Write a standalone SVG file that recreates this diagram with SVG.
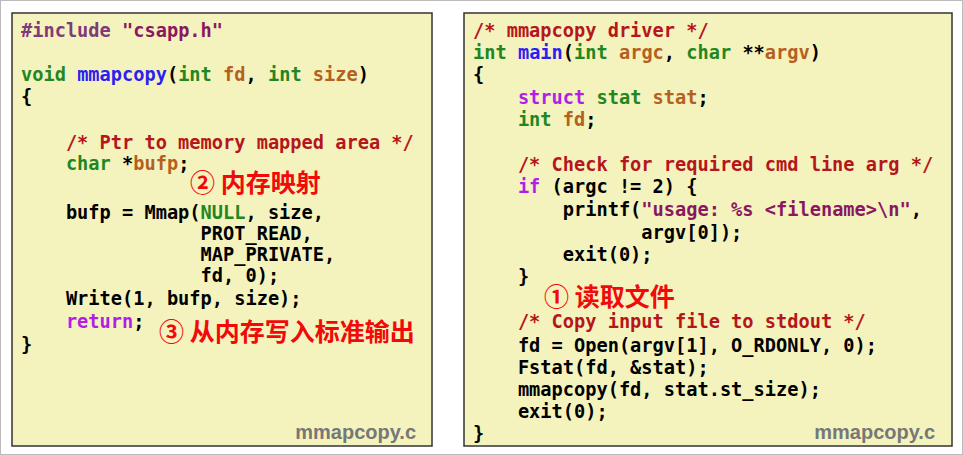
<svg xmlns="http://www.w3.org/2000/svg" width="963" height="455" viewBox="0 0 963 455">
<style>
.c{font-family:"DejaVu Sans Mono",monospace;font-weight:bold;font-size:18.65px;fill:#000;white-space:pre}
.cm{fill:#b5161b}.kw{fill:#23861f}.ty{fill:#b21ee6}.fn{fill:#2c1ff0}.v{fill:#b4601f}.s{fill:#8b1761}.pp{fill:#7e3b78}
.a{font-family:"Noto Sans CJK SC","Noto Sans",sans-serif;font-size:25px;font-weight:bold;fill:#f00a0a}
.f{font-family:"Liberation Sans",sans-serif;font-weight:bold;font-size:20px;fill:#777}
.p{fill:#f5f3bd;stroke:#333;stroke-width:1.5}
</style>
<rect x="0.5" y="0.5" width="962" height="454" fill="#fff" stroke="#bbb"/>
<g id="left">
<rect class="p" x="12" y="13" width="420" height="433"/>
<text class="c" xml:space="preserve">
<tspan x="21" y="37" class="pp">#include <tspan class="s">"csapp.h"</tspan></tspan>
<tspan x="21" y="81"><tspan class="kw">void</tspan> <tspan class="fn">mmapcopy</tspan>(<tspan class="kw">int</tspan> <tspan class="v">fd</tspan>, <tspan class="kw">int</tspan> <tspan class="v">size</tspan>)</tspan>
<tspan x="21" y="103">{</tspan>
<tspan x="21" y="149">    <tspan class="cm">/* Ptr to memory mapped area */</tspan></tspan>
<tspan x="21" y="170">    <tspan class="kw">char</tspan> *<tspan class="v">bufp</tspan>;</tspan>
<tspan x="21" y="219">    bufp = Mmap(<tspan class="kw">NULL</tspan>, size,</tspan>
<tspan x="21" y="240">                PROT_READ,</tspan>
<tspan x="21" y="261">                MAP_PRIVATE,</tspan>
<tspan x="21" y="282">                fd, 0);</tspan>
<tspan x="21" y="305">    Write(1, bufp, size);</tspan>
<tspan x="21" y="328">    <tspan class="ty">return</tspan>;</tspan>
<tspan x="21" y="351">}</tspan>
</text>
<text class="a" x="190" y="192">② 内存映射</text>
<text class="a" x="159" y="341">③ 从内存写入标准输出</text>
<text class="f" x="416" y="439" text-anchor="end">mmapcopy.c</text>
</g>
<g id="right">
<rect class="p" x="464" y="13" width="488" height="433"/>
<text class="c" xml:space="preserve">
<tspan x="473" y="37" class="cm">/* mmapcopy driver */</tspan>
<tspan x="473" y="59"><tspan class="kw">int</tspan> <tspan class="fn">main</tspan>(<tspan class="kw">int</tspan> <tspan class="v">argc</tspan>, <tspan class="kw">char</tspan> **<tspan class="v">argv</tspan>)</tspan>
<tspan x="473" y="81">{</tspan>
<tspan x="473" y="104">    <tspan class="ty">struct</tspan> <tspan class="kw">stat</tspan> <tspan class="v">stat</tspan>;</tspan>
<tspan x="473" y="126">    <tspan class="kw">int</tspan> <tspan class="v">fd</tspan>;</tspan>
<tspan x="473" y="171">    <tspan class="cm">/* Check for required cmd line arg */</tspan></tspan>
<tspan x="473" y="193">    <tspan class="ty">if</tspan> (argc != 2) {</tspan>
<tspan x="473" y="216">        printf(<tspan class="s">"usage: %s &lt;filename&gt;\n"</tspan>,</tspan>
<tspan x="473" y="239">               argv[0]);</tspan>
<tspan x="473" y="261">        exit(0);</tspan>
<tspan x="473" y="283">    }</tspan>
<tspan x="473" y="328">    <tspan class="cm">/* Copy input file to stdout */</tspan></tspan>
<tspan x="473" y="352">    fd = Open(argv[1], O_RDONLY, 0);</tspan>
<tspan x="473" y="374">    Fstat(fd, &amp;stat);</tspan>
<tspan x="473" y="396">    mmapcopy(fd, stat.st_size);</tspan>
<tspan x="473" y="418">    exit(0);</tspan>
<tspan x="473" y="440">}</tspan>
</text>
<text class="a" x="544" y="306">① 读取文件</text>
<text class="f" x="935" y="439" text-anchor="end">mmapcopy.c</text>
</g>
<g id="connectors"/>
</svg>
